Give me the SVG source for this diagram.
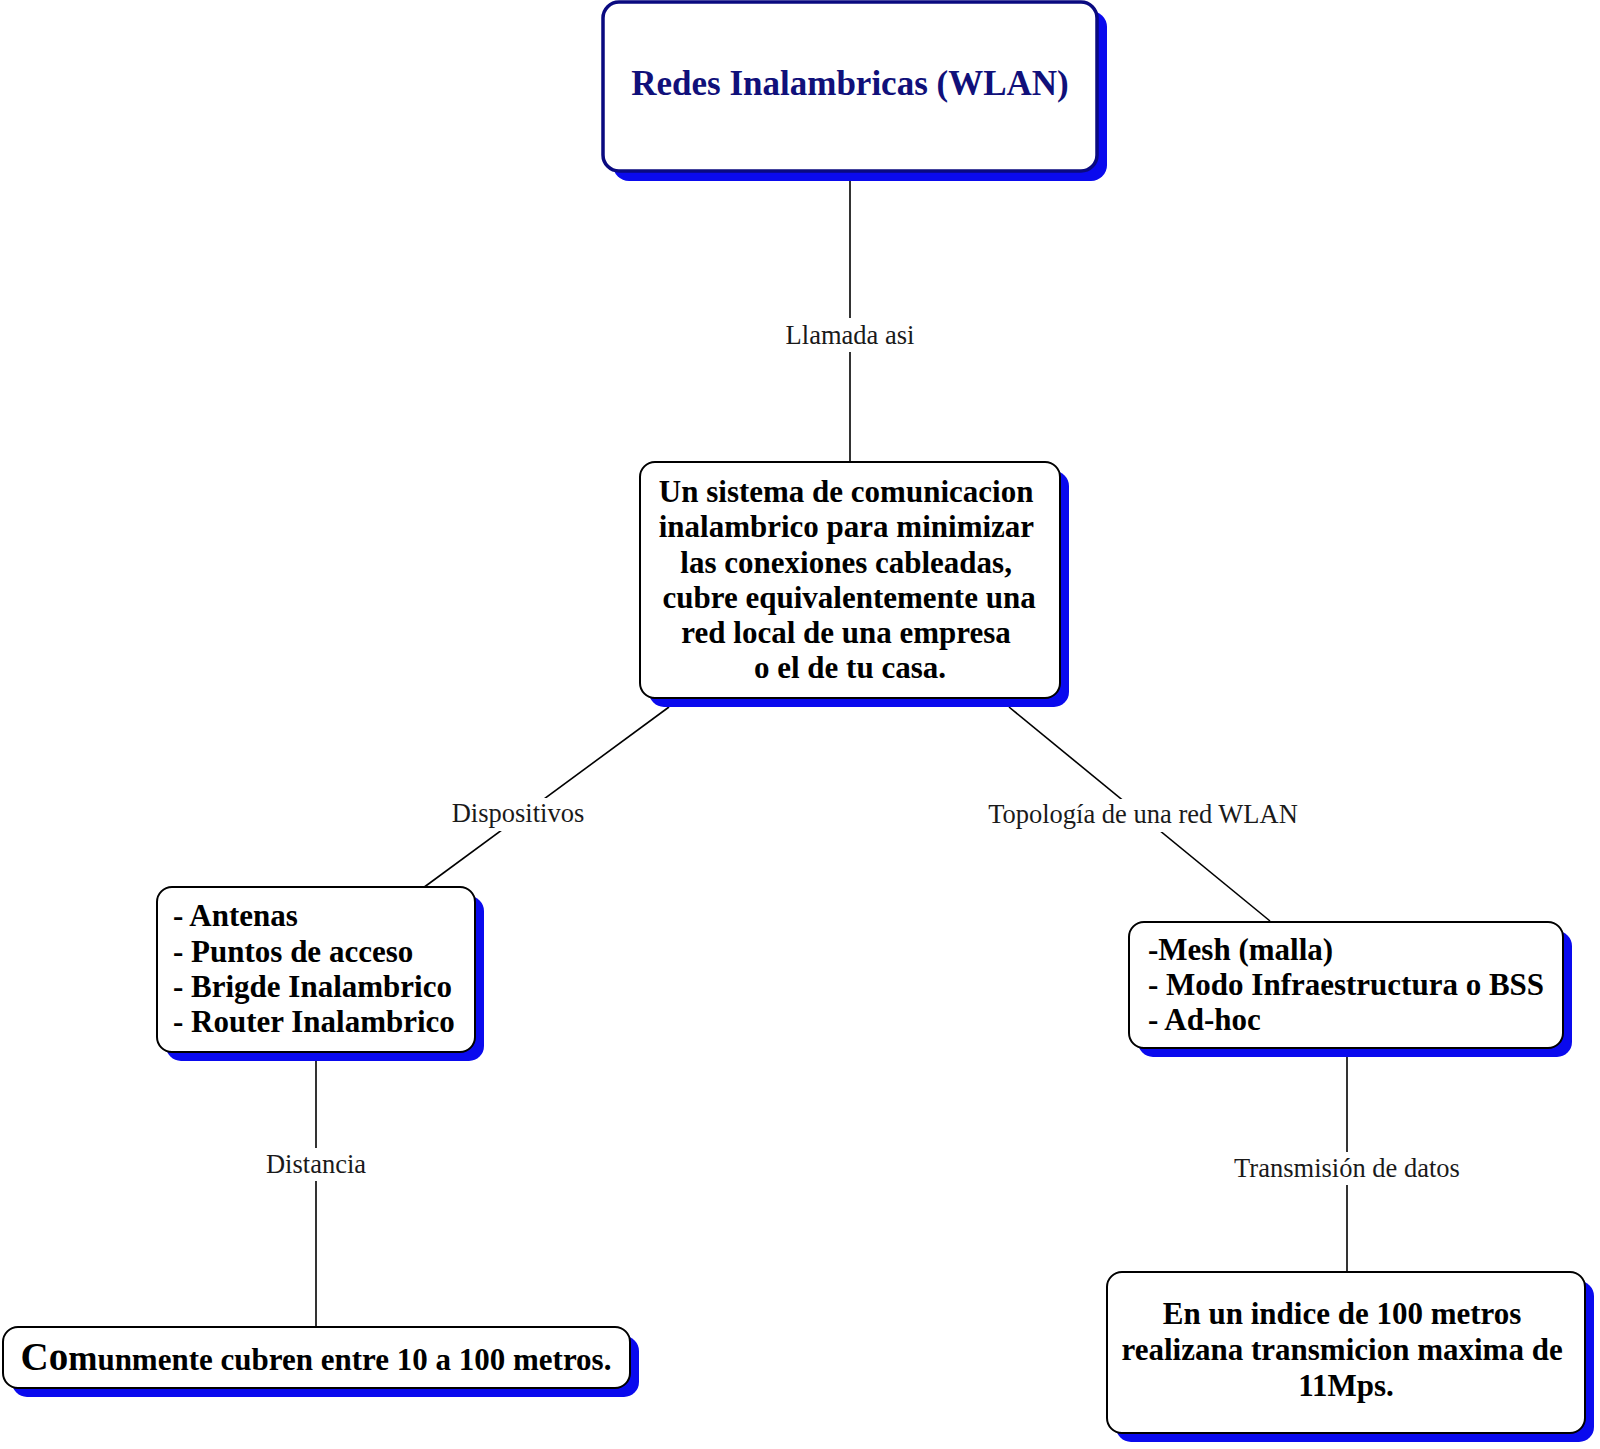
<svg xmlns="http://www.w3.org/2000/svg" width="1600" height="1449" viewBox="0 0 1600 1449">
<style>
.bg{fill:#ffffff}
.shadow{fill:#0a0aee}
.box{fill:#ffffff;stroke:#000000;stroke-width:2}
.topbox{fill:#ffffff;stroke:#0a0a80;stroke-width:3.5}
.t{font-family:"Liberation Serif","Times New Roman",serif;font-weight:bold;font-size:31px;fill:#000000}
.title{font-family:"Liberation Serif","Times New Roman",serif;font-weight:bold;font-size:35px;fill:#10107a}
.lbl{font-family:"Liberation Serif","Times New Roman",serif;font-size:26.5px;fill:#1a1a1a}
.ln{stroke:#000000;stroke-width:1.6;fill:none}
.mask{fill:#ffffff}
</style>
<rect class="bg" x="0" y="0" width="1600" height="1449"/>
<g id="connectors">
<line class="ln" x1="850" y1="172" x2="850" y2="462"/>
<line class="ln" x1="669" y1="707" x2="423" y2="888"/>
<line class="ln" x1="1009" y1="707" x2="1270" y2="921"/>
<line class="ln" x1="316" y1="1052" x2="316" y2="1327"/>
<line class="ln" x1="1347" y1="1048" x2="1347" y2="1272"/>
<rect class="mask" x="782" y="318" width="136" height="34"/>
<text class="lbl" x="850" y="344" text-anchor="middle">Llamada asi</text>
<rect class="mask" x="450" y="798" width="138" height="33"/>
<text class="lbl" x="518" y="822" text-anchor="middle">Dispositivos</text>
<rect class="mask" x="982" y="799" width="324" height="33"/>
<text class="lbl" x="1143" y="823" text-anchor="middle">Topología de una red WLAN</text>
<rect class="mask" x="262" y="1148" width="108" height="33"/>
<text class="lbl" x="316" y="1173" text-anchor="middle">Distancia</text>
<rect class="mask" x="1228" y="1152" width="238" height="33"/>
<text class="lbl" x="1347" y="1177" text-anchor="middle">Transmisión de datos</text>
</g>
<g id="node-title">
<rect class="shadow" x="613" y="11" width="494" height="170" rx="16"/>
<rect class="topbox" x="603" y="2" width="494" height="169" rx="16"/>
<text class="title" x="850" y="95" text-anchor="middle">Redes Inalambricas (WLAN)</text>
</g>
<g id="node-center">
<rect class="shadow" x="649" y="471" width="420" height="236" rx="15"/>
<rect class="box" x="640" y="462" width="420" height="236" rx="15"/>
<text class="t" text-anchor="middle">
<tspan x="850" y="502">Un sistema de comunicacion</tspan>
<tspan x="850" y="537">inalambrico para minimizar</tspan>
<tspan x="850" y="573">las conexiones cableadas,</tspan>
<tspan x="853" y="608">cubre equivalentemente una</tspan>
<tspan x="850" y="643">red local de una empresa</tspan>
<tspan x="850" y="678">o el de tu casa.</tspan>
</text>
</g>
<g id="node-dispositivos">
<rect class="shadow" x="166" y="896" width="318" height="165" rx="15"/>
<rect class="box" x="157" y="887" width="318" height="165" rx="15"/>
<text class="t">
<tspan x="173" y="926">- Antenas</tspan>
<tspan x="173" y="962">- Puntos de acceso</tspan>
<tspan x="173" y="997">- Brigde Inalambrico</tspan>
<tspan x="173" y="1032">- Router Inalambrico</tspan>
</text>
</g>
<g id="node-topologia">
<rect class="shadow" x="1138" y="931" width="434" height="126" rx="15"/>
<rect class="box" x="1129" y="922" width="434" height="126" rx="15"/>
<text class="t">
<tspan x="1148" y="960">-Mesh (malla)</tspan>
<tspan x="1148" y="995">- Modo Infraestructura o BSS</tspan>
<tspan x="1148" y="1030">- Ad-hoc</tspan>
</text>
</g>
<g id="node-distancia">
<rect class="shadow" x="12" y="1336" width="627" height="61" rx="15"/>
<rect class="box" x="3" y="1327" width="627" height="61" rx="15"/>
<text class="t" x="316" y="1370" text-anchor="middle"><tspan font-size="39px">Co</tspan><tspan font-size="35px">m</tspan><tspan font-size="31px">unmente cubren entre 10 a 100 metros.</tspan></text>
</g>
<g id="node-transmision">
<rect class="shadow" x="1116" y="1281" width="478" height="161" rx="15"/>
<rect class="box" x="1107" y="1272" width="478" height="161" rx="15"/>
<text class="t" text-anchor="middle">
<tspan x="1346" y="1324">En un indice de 100 metros</tspan>
<tspan x="1346" y="1360">realizana transmicion maxima de</tspan>
<tspan x="1346" y="1396">11Mps.</tspan>
</text>
</g>
</svg>
